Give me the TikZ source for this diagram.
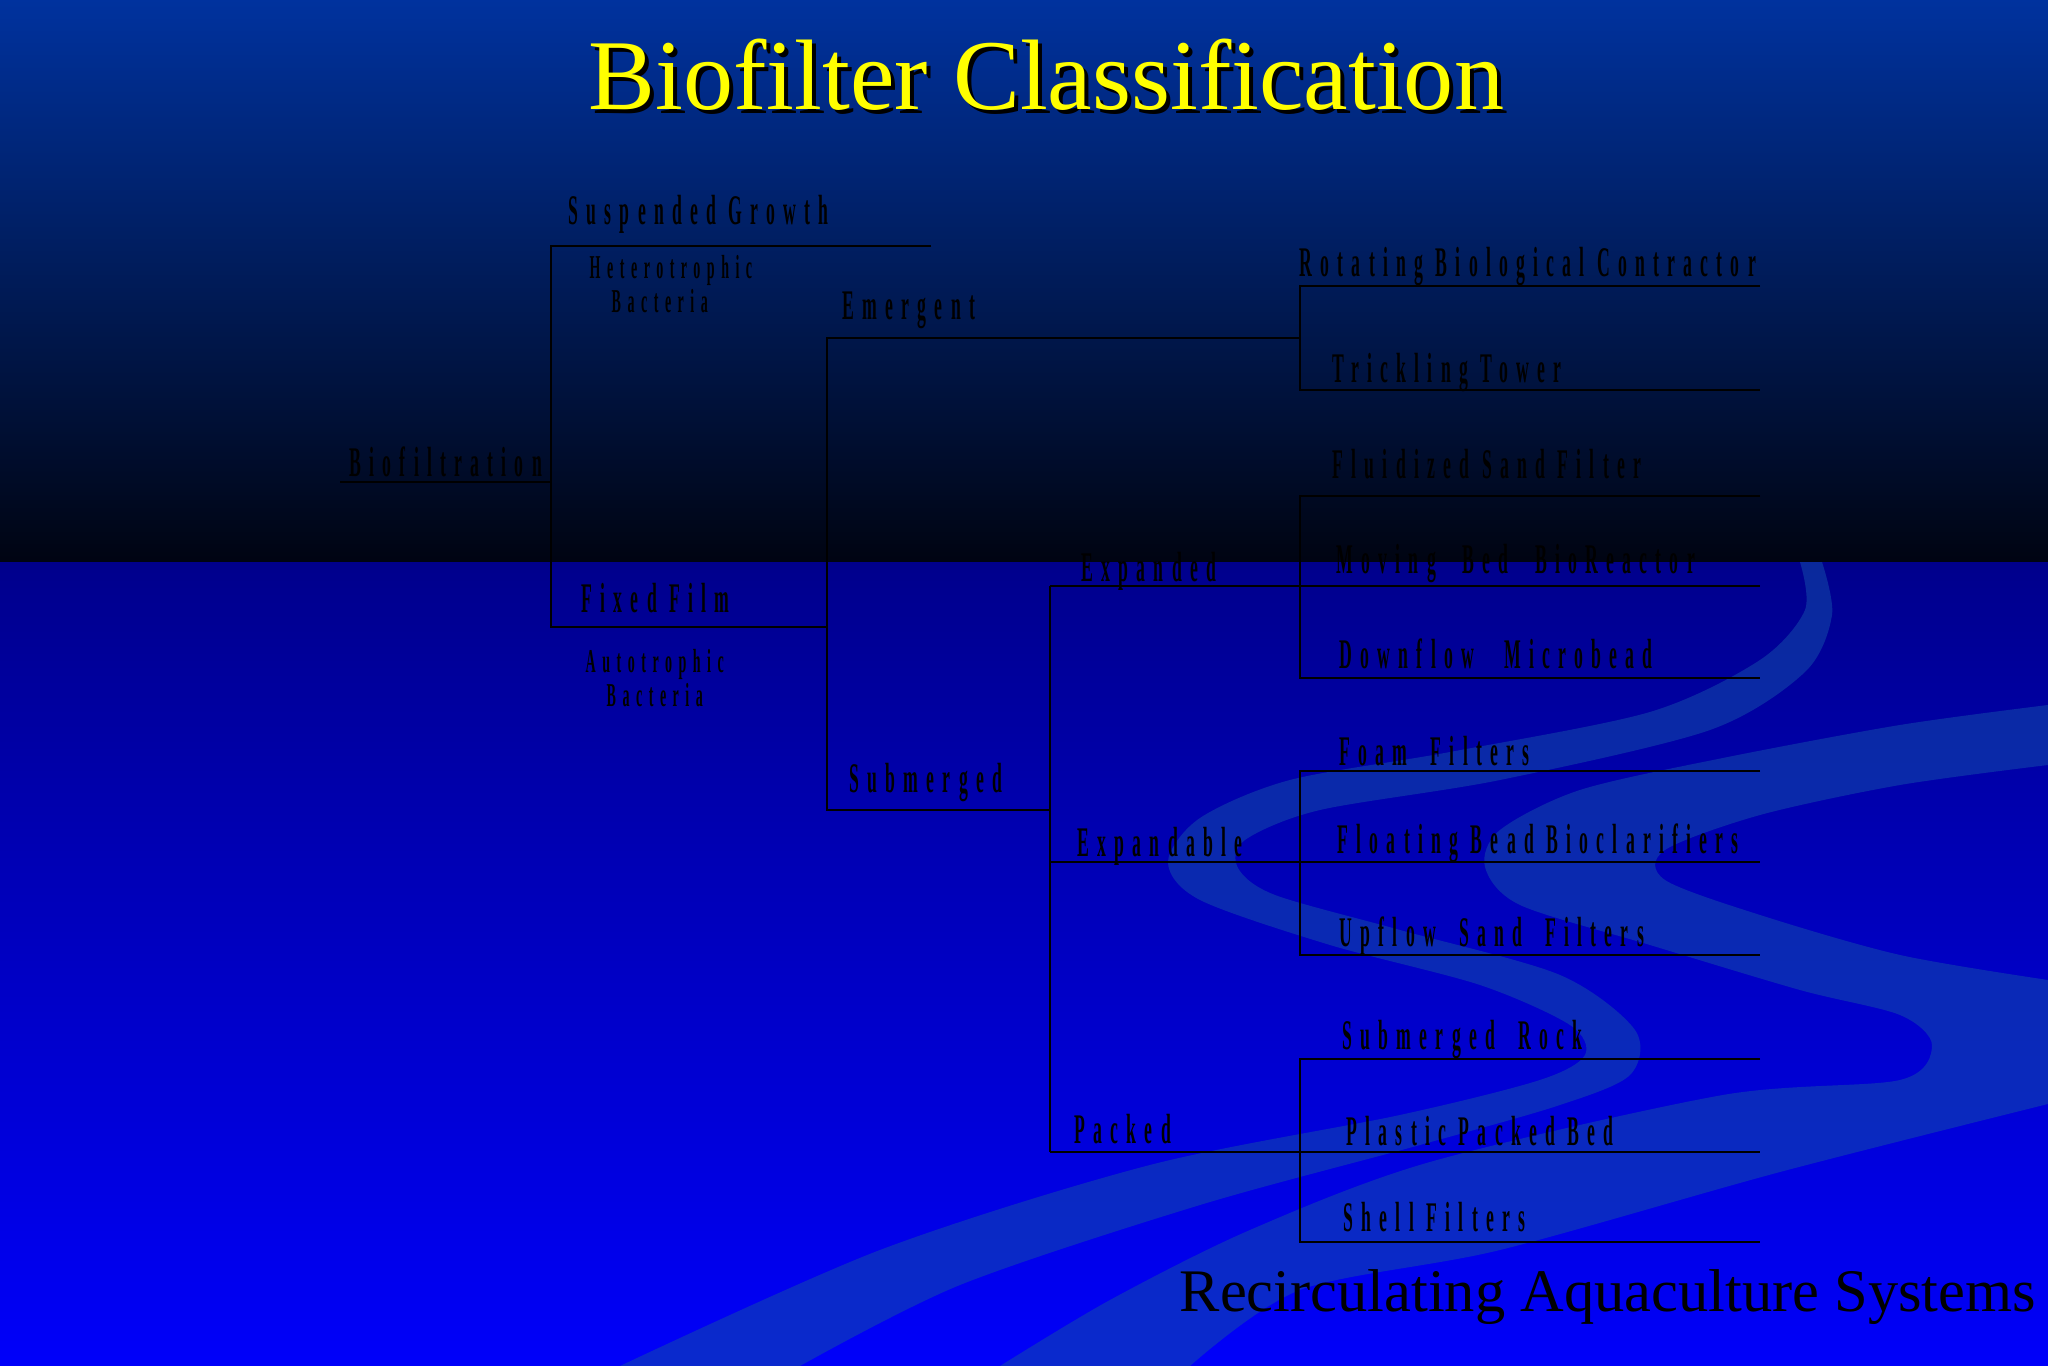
\documentclass[tikz,border=0pt]{standalone}
\usepackage{fontspec}
\setmainfont{Liberation Serif}
\newfontfamily\treefont[FakeStretch=0.42,LetterSpace=19.5]{Liberation Serif Bold}
\definecolor{topblue}{RGB}{0,50,158}
\definecolor{topdark}{RGB}{0,4,18}
\definecolor{lowblue}{RGB}{0,0,140}
\definecolor{brightblue}{RGB}{0,0,250}
\definecolor{swoosh}{RGB}{20,75,170}
\definecolor{titleyellow}{RGB}{255,255,0}

\begin{document}
\begin{tikzpicture}[
  branch/.style={line width=0.6pt,black},
  lbl/.style={anchor=base west,inner sep=0pt,font=\treefont\fontsize{12}{14}\selectfont},
  sublbl/.style={anchor=base west,inner sep=0pt,font=\treefont\fontsize{9.5}{11}\selectfont},
  band/.style={fill=swoosh,fill opacity=0.55}]
	\useasboundingbox (0,0) rectangle (20.48,-13.66);

	%background
	\shade[top color=lowblue,bottom color=brightblue] (0,-5.62) rectangle (20.48,-13.66);

	%swooshes
	\fill[band] plot [smooth] coordinates {(18.00,-5.62) (18.05,-6.10) (17.60,-6.60) (16.50,-7.12) (14.50,-7.52) (12.90,-7.80) (12.00,-8.18) (11.68,-8.62) (12.00,-9.00) (13.30,-9.45) (14.80,-9.85) (15.70,-10.25) (15.85,-10.55) (15.40,-10.80) (14.00,-11.15) (11.50,-11.65) (8.80,-12.50) (6.20,-13.66)}
	  -- plot [smooth] coordinates {(8.00,-13.66) (9.60,-12.85) (12.00,-12.05) (14.20,-11.45) (15.60,-11.05) (16.30,-10.75) (16.35,-10.30) (15.60,-9.75) (14.00,-9.30) (12.75,-8.95) (12.38,-8.68) (12.45,-8.40) (13.20,-8.10) (15.00,-7.80) (17.10,-7.30) (18.05,-6.72) (18.32,-6.15) (18.22,-5.62)} -- cycle; %narrow S
	\fill[band] plot [smooth] coordinates {(20.48,-7.05) (19.00,-7.25) (17.23,-7.58) (15.80,-7.90) (15.00,-8.30) (14.85,-8.67) (15.20,-9.05) (16.50,-9.45) (18.00,-9.90) (19.00,-10.15) (19.32,-10.45) (19.00,-10.80) (17.23,-10.95) (14.30,-11.62) (12.50,-12.30) (11.10,-13.00) (10.00,-13.66)}
	  -- plot [smooth] coordinates {(11.90,-13.66) (13.00,-12.90) (15.00,-12.50) (17.80,-11.72) (20.48,-11.04)}
	  -- (20.48,-9.80) -- plot [smooth] coordinates {(20.48,-9.80) (19.00,-9.55) (17.60,-9.15) (16.65,-8.80) (16.65,-8.50) (17.60,-8.15) (19.00,-7.85) (20.48,-7.65)} -- cycle; %wide S

	\shade[top color=topblue,bottom color=topdark] (0,0) rectangle (20.48,-5.62);

	%title
	\node[anchor=base west,inner sep=0pt,black,font=\fontsize{28.5}{34}\selectfont] (titleshadow) at (5.92,-1.14) {Biofilter Classification};
	\node[anchor=base west,inner sep=0pt,titleyellow,font=\fontsize{28.5}{34}\selectfont] (title) at (5.88,-1.10) {Biofilter Classification};

	%tree junctions
	\coordinate (bioL) at (3.40,-4.82);
	\coordinate (bioR) at (5.51,-4.82);
	\coordinate (susTop) at (5.51,-2.46);
	\coordinate (susEnd) at (9.31,-2.46);
	\coordinate (fixBot) at (5.51,-6.27);
	\coordinate (fixEnd) at (8.27,-6.27);
	\coordinate (emTop) at (8.27,-3.38);
	\coordinate (emEnd) at (13.00,-3.38);
	\coordinate (subBot) at (8.27,-8.10);
	\coordinate (subEnd) at (10.50,-8.10);
	\coordinate (exdTop) at (10.50,-5.86);
	\coordinate (exbMid) at (10.50,-8.62);
	\coordinate (pakBot) at (10.50,-11.52);
	\foreach \n/\y in {rbc/2.86,tt/3.90,fsf/4.96,mbb/5.86,dfm/6.78,ff/7.71,fbb/8.62,usf/9.55,sr/10.59,ppb/11.52,sf/12.42}{
	  \coordinate (\n-in) at (13.00,-\y);
	  \coordinate (\n-out) at (17.60,-\y);
	}

	%tree lines
	\draw[branch] (bioL) -- (bioR);
	\draw[branch] (susEnd) -- (susTop) -- (fixBot) -- (fixEnd);
	\draw[branch] (emEnd) -- (emTop) -- (subBot) -- (subEnd);
	\draw[branch] (exdTop) -- (pakBot);
	\draw[branch] (exdTop) -- (mbb-out);
	\draw[branch] (exbMid) -- (fbb-out);
	\draw[branch] (pakBot) -- (ppb-out);
	\draw[branch] (rbc-out) -- (rbc-in) -- (tt-in) -- (tt-out);
	\draw[branch] (fsf-out) -- (fsf-in) -- (dfm-in) -- (dfm-out);
	\draw[branch] (ff-out) -- (ff-in) -- (usf-in) -- (usf-out);
	\draw[branch] (sr-out) -- (sr-in) -- (sf-in) -- (sf-out);

	%labels
	\node[lbl] (bio) at (3.49,-4.77) {Biofiltration};
	\node[lbl] (susp) at (5.68,-2.25) {Suspended Growth};
	\node[sublbl] (het) at (5.89,-2.79) {Heterotrophic};
	\node[sublbl] (hetb) at (6.11,-3.13) {Bacteria};
	\node[lbl] (fixed) at (5.81,-6.13) {Fixed Film};
	\node[sublbl] (auto) at (5.85,-6.73) {Autotrophic};
	\node[sublbl] (autob) at (6.06,-7.07) {Bacteria};
	\node[lbl] (emer) at (8.42,-3.20) {Emergent};
	\node[lbl] (subm) at (8.49,-7.93) {Submerged};
	\node[lbl] (expd) at (10.81,-5.82) {Expanded};
	\node[lbl] (expb) at (10.77,-8.57) {Expandable};
	\node[lbl] (pack) at (10.74,-11.44) {Packed};
	\node[lbl] (rbc) at (12.99,-2.77) {Rotating Biological Contractor};
	\node[lbl] (tt) at (13.32,-3.83) {Trickling Tower};
	\node[lbl] (fsf) at (13.32,-4.79) {Fluidized Sand Filter};
	\node[lbl] (mbb) at (13.36,-5.74) {Moving\hspace{4pt} Bed\hspace{4pt} BioReactor};
	\node[lbl] (dfm) at (13.39,-6.69) {Downflow\hspace{5pt} Microbead};
	\node[lbl] (ff) at (13.39,-7.66) {Foam\hspace{3pt} Filters};
	\node[lbl] (fbb) at (13.37,-8.54) {Floating Bead Bioclarifiers};
	\node[lbl] (usf) at (13.39,-9.47) {Upflow\hspace{3pt} Sand\hspace{3pt} Filters};
	\node[lbl] (sr) at (13.42,-10.50) {Submerged\hspace{3pt} Rock};
	\node[lbl] (ppb) at (13.46,-11.46) {Plastic Packed Bed};
	\node[lbl] (sf) at (13.43,-12.32) {Shell Filters};

	%footer
	\node[anchor=base west,inner sep=0pt,black,font=\fontsize{17.2}{20}\selectfont] (footer) at (11.79,-13.12) {Recirculating Aquaculture Systems};
\end{tikzpicture}
\end{document}
